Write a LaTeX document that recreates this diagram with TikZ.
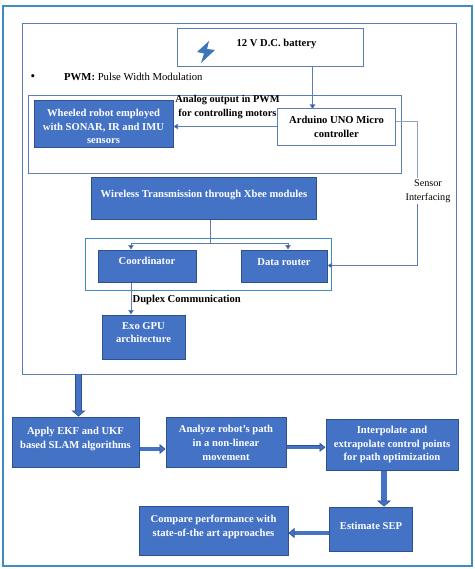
\documentclass[tikz,border=0pt]{standalone}
\usepackage{fontspec}
\setmainfont{Liberation Serif}
\usetikzlibrary{arrows.meta}
\definecolor{fillb}{HTML}{4472C4}
\definecolor{edgeb}{HTML}{2F528F}
\definecolor{teal}{HTML}{3F8DC0}
\definecolor{linb}{HTML}{5B7DB8}
\definecolor{graybl}{HTML}{8FA3BD}
\definecolor{bolt}{HTML}{3A76B8}
\newcommand{\bxfont}{\bfseries\fontsize{10.6}{13.7}\selectfont}
\tikzset{
  x=1pt,y=-1pt,
  blue box/.style={draw=edgeb,line width=1pt,fill=fillb,text=white,align=center,font=\bxfont,inner sep=0pt},
  white box/.style={draw=linb,line width=.9pt,fill=white,align=center,font=\bxfont,inner sep=0pt},
  panel/.style={draw=linb,line width=.9pt,inner sep=0pt},
  thin arrow/.style={draw=linb,line width=.7pt,-{Triangle[length=4.5pt,width=5.5pt,fill=edgeb]}},
  box text/.style={text=white,align=center,font=\bxfont,inner sep=0pt},
  dark text/.style={align=center,font=\bxfont,inner sep=0pt},
  fat arrow/.style 2 args={draw=edgeb,line width=.7pt,double=fillb,double distance=#1,-{Triangle[length=6pt,width=#2,fill=fillb,line width=.7pt]}},
}
\begin{document}
\begin{tikzpicture}
\useasboundingbox (0,0) rectangle (474,569);
\fill[white] (0,0) rectangle (474,569);
\node[draw=teal,line width=1.3pt,minimum width=469pt,minimum height=560pt,inner sep=0pt] (outer) at (237.5,286) {};
\node[panel,minimum width=434pt,minimum height=351pt] (inner) at (239,198.5) {};
\node[panel,minimum width=373pt,minimum height=78pt] (panelA) at (214.5,134) {};
\node[panel,draw=teal,minimum width=246pt,minimum height=52pt] (panelB) at (208,264) {};

\node[white box,minimum width=186pt,minimum height=38pt] (batt) at (270,47.5) {};
\node[dark text] (battlabel) at (276.5,44) {12 V D.C. battery};
\fill[bolt] (209,41) -- (197,52) -- (204,53.5) -- (201,63) -- (215,50) -- (207,49) -- cycle;

\node[font=\fontsize{13}{13}\selectfont,inner sep=0pt] (bullet) at (33,77.5) {•};
\node[anchor=west,font=\fontsize{10.7}{12}\selectfont,inner sep=0pt] (pwm) at (64,76.5) {\textbf{PWM:} Pulse Width Modulation};

\node[blue box,minimum width=139pt,minimum height=47pt] (robot) at (103.5,124.5) {};
\node[box text] (robotlabel) at (103.5,126.5) {Wheeled robot employed\\with SONAR, IR and IMU\\sensors};
\node[white box,minimum width=118.5pt,minimum height=37pt] (ard) at (336.5,127) {Arduino UNO Micro\\controller};
\node[align=center,font=\bfseries\fontsize{10.4}{13.7}\selectfont,inner sep=0pt] (analog) at (227.5,107) {Analog output in PWM\\for controlling motors};

\node[blue box,minimum width=224.5pt,minimum height=41pt] (wire) at (204,198.5) {};
\node[box text] (wirelabel) at (204,195) {Wireless Transmission through Xbee modules};

\node[blue box,minimum width=98pt,minimum height=32pt] (coord) at (147,266) {};
\node[box text] (coordlabel) at (147,261) {Coordinator};
\node[blue box,minimum width=86pt,minimum height=32pt] (router) at (284,266) {};
\node[box text] (routerlabel) at (284,262.5) {Data router};
\node[blue box,minimum width=83pt,minimum height=44pt] (exo) at (143.5,337) {};
\node[box text] (exolabel) at (143.5,332.5) {Exo GPU\\architecture};
\node[anchor=west,dark text] (duplex) at (132.5,300) {Duplex Communication};
\node[font=\fontsize{10.2}{13.7}\selectfont,align=center,fill=white,inner sep=1pt] (sensor) at (428,191) {Sensor\\Interfacing};

% connectors
\draw[thin arrow] (batt.south -| 312.5,0) -- (312.5,109);
\draw[thin arrow] (ard.west |- 0,126.5) -- (robot.east |- 0,126.5);
\draw[draw=graybl,line width=.7pt] (ard.east |- 0,121.5) -- (417.5,121.5) -- (sensor.north -| 417.5,0);
\draw[thin arrow] (sensor.south -| 417.5,0) -- (417.5,265.5) -- (router.east |- 0,265.5);
\draw[draw=linb,line width=.7pt] (wire.south -| 210.5,0) -- (210.5,243);
\draw[thin arrow] (210.5,243) -- (131,243) -- (coord.north -| 131,0);
\draw[thin arrow] (210.5,243) -- (288,243) -- (router.north -| 288,0);
\draw[thin arrow] (coord.south -| 131,0) -- (exo.north -| 131,0);

% lower row
\node[blue box,minimum width=127pt,minimum height=50pt] (ekf) at (75.5,442) {};
\node[box text] (ekflabel) at (75.5,439) {Apply EKF and UKF\\based SLAM algorithms};
\node[blue box,minimum width=120pt,minimum height=50pt] (path) at (226,442) {};
\node[box text] (pathlabel) at (226,443) {Analyze robot's path\\in a non-linear\\movement};
\node[blue box,minimum width=132pt,minimum height=51pt] (interp) at (392,444.5) {Interpolate and\\extrapolate control points\\for path optimization};
\node[blue box,minimum width=83pt,minimum height=44pt] (sep) at (371,529) {};
\node[box text] (seplabel) at (371,525.5) {Estimate SEP};
\node[blue box,minimum width=149pt,minimum height=49pt] (comp) at (213.5,531) {};
\node[box text] (complabel) at (213.5,527) {Compare performance with\\state-of-the art approaches};

\draw[fat arrow={5.5pt}{14pt}] (inner.south -| 78.5,0) -- (ekf.north -| 78.5,0);
\draw[fat arrow={3.5pt}{10pt}] (ekf.east |- 0,449) -- (path.west |- 0,449);
\draw[fat arrow={2.5pt}{9pt}] (path.east |- 0,447.3) -- (interp.west |- 0,447.3);
\draw[fat arrow={5.5pt}{14pt}] (interp.south -| 384,0) -- (sep.north -| 384,0);
\draw[fat arrow={3.5pt}{10pt}] (sep.west |- 0,533) -- (comp.east |- 0,533);
\end{tikzpicture}
\end{document}
